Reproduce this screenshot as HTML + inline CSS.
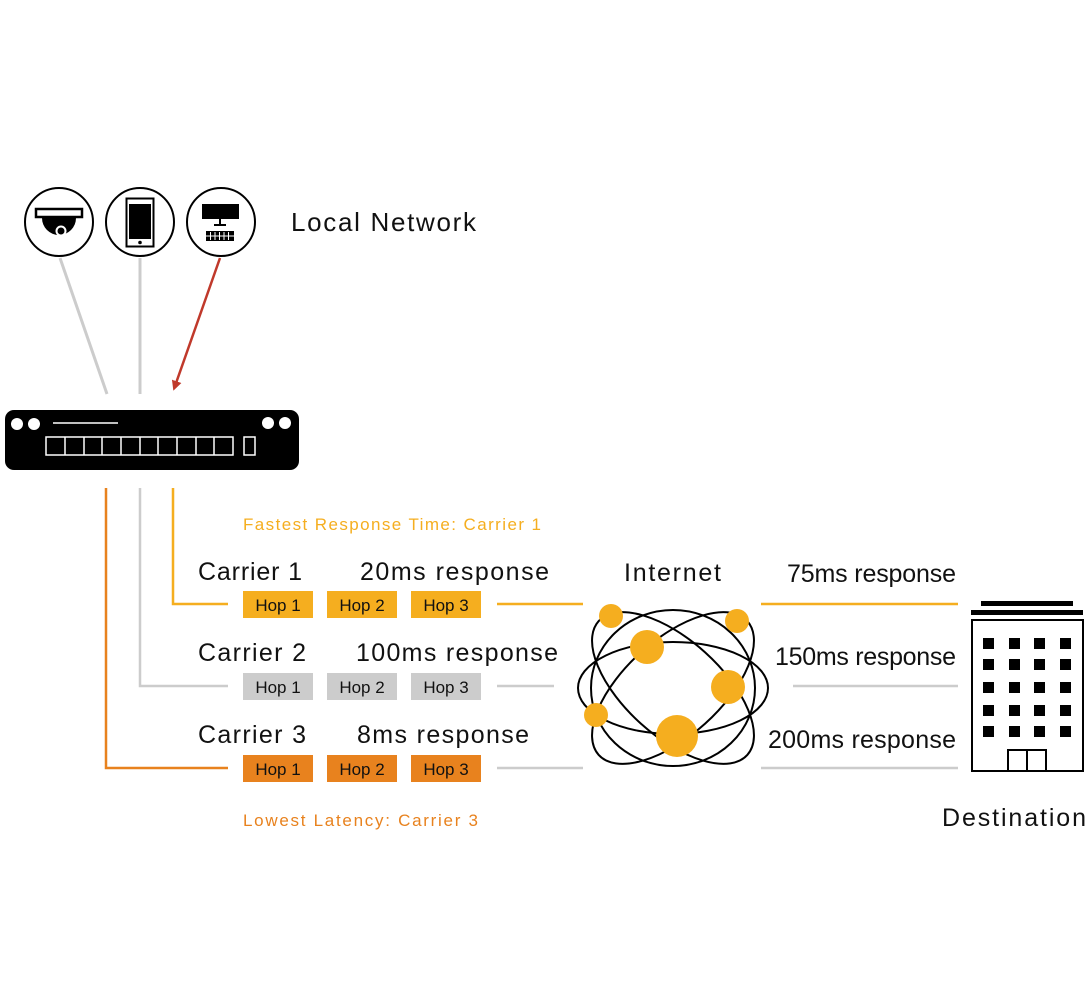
<!DOCTYPE html>
<html><head><meta charset="utf-8"><style>
body{margin:0;background:#fff}
svg{display:block}
text{font-family:"Liberation Sans",sans-serif}
</style></head><body>
<svg width="1086" height="1000" viewBox="0 0 1086 1000" xmlns="http://www.w3.org/2000/svg">
<defs><marker id="ah" markerWidth="10" markerHeight="10" refX="5" refY="5" orient="auto" markerUnits="userSpaceOnUse"><path d="M0,0 L10,5 L0,10 z" fill="#c0392b"/></marker></defs>
<g fill="#fff" stroke="#000" stroke-width="2">
<circle cx="59" cy="222" r="34"/><circle cx="140" cy="222" r="34"/><circle cx="221" cy="222" r="34"/>
</g>
<rect x="36" y="209" width="46" height="8" fill="#fff" stroke="#000" stroke-width="2.5"/>
<path d="M42,218 L76,218 A17,17 0 0 1 42,218 z" fill="#000"/>
<circle cx="61" cy="231" r="4.5" fill="#000" stroke="#fff" stroke-width="2"/>
<rect x="126.5" y="198.5" width="27" height="48" fill="none" stroke="#000" stroke-width="2"/>
<rect x="129" y="204" width="22" height="35" fill="#000"/>
<circle cx="140" cy="242.5" r="1.8" fill="#000"/>
<rect x="202" y="204" width="37" height="15" fill="#000"/>
<rect x="219" y="219" width="2" height="5" fill="#000"/><rect x="214" y="224" width="12" height="2" fill="#000"/>
<rect x="206" y="231" width="28" height="10" fill="#000"/>
<g stroke="#fff" stroke-width="1"><line x1="206" y1="236" x2="234" y2="236"/><line x1="210.5" y1="232" x2="210.5" y2="240"/><line x1="215" y1="232" x2="215" y2="240"/><line x1="219.5" y1="232" x2="219.5" y2="240"/><line x1="224" y1="232" x2="224" y2="240"/><line x1="228.5" y1="232" x2="228.5" y2="240"/></g>
<text x="291" y="231" font-size="26" fill="#111" textLength="185" lengthAdjust="spacing">Local Network</text>
<line x1="60" y1="258" x2="107" y2="394" stroke="#ccc" stroke-width="3"/>
<line x1="140" y1="258" x2="140" y2="394" stroke="#ccc" stroke-width="3"/>
<line x1="220" y1="258" x2="175" y2="386" stroke="#c0392b" stroke-width="2.5" marker-end="url(#ah)"/>
<rect x="5" y="410" width="294" height="60" rx="9" fill="#000"/>
<circle cx="17" cy="424" r="6" fill="#fff"/><circle cx="34" cy="424" r="6" fill="#fff"/>
<circle cx="268" cy="423" r="6" fill="#fff"/><circle cx="285" cy="423" r="6" fill="#fff"/>
<line x1="53" y1="423" x2="118" y2="423" stroke="#fff" stroke-width="1.5"/>
<g fill="none" stroke="#fff" stroke-width="1.5">
<rect x="46" y="437" width="187" height="18"/>
<line x1="65" y1="437" x2="65" y2="455"/><line x1="84" y1="437" x2="84" y2="455"/><line x1="102" y1="437" x2="102" y2="455"/><line x1="121" y1="437" x2="121" y2="455"/><line x1="140" y1="437" x2="140" y2="455"/><line x1="158" y1="437" x2="158" y2="455"/><line x1="177" y1="437" x2="177" y2="455"/><line x1="196" y1="437" x2="196" y2="455"/><line x1="214" y1="437" x2="214" y2="455"/>
<rect x="244" y="437" width="11" height="18"/>
</g>
<polyline points="173,488 173,604 228,604" fill="none" stroke="#f5ae1f" stroke-width="2.5"/>
<polyline points="140,488 140,686 228,686" fill="none" stroke="#ccc" stroke-width="2.5"/>
<polyline points="106,488 106,768 228,768" fill="none" stroke="#e8821e" stroke-width="2.5"/>
<text x="243" y="530" font-size="17" fill="#f5ae1f" textLength="298" lengthAdjust="spacing">Fastest Response Time: Carrier 1</text>
<text x="243" y="826" font-size="17" fill="#e8821e" textLength="235" lengthAdjust="spacing">Lowest Latency: Carrier 3</text>
<g font-size="25" fill="#111">
<text x="198" y="580" textLength="104" lengthAdjust="spacing">Carrier 1</text><text x="360" y="580" textLength="189" lengthAdjust="spacing">20ms response</text>
<text x="198" y="661" textLength="108" lengthAdjust="spacing">Carrier 2</text><text x="356" y="661" textLength="202" lengthAdjust="spacing">100ms response</text>
<text x="198" y="743" textLength="108" lengthAdjust="spacing">Carrier 3</text><text x="357" y="743" textLength="172" lengthAdjust="spacing">8ms response</text>
<text x="624" y="581" textLength="97" lengthAdjust="spacing">Internet</text>
<text x="787" y="582" textLength="169" lengthAdjust="spacing">75ms response</text>
<text x="775" y="665" textLength="181" lengthAdjust="spacing">150ms response</text>
<text x="768" y="748" textLength="188" lengthAdjust="spacing">200ms response</text>
<text x="942" y="826" textLength="144" lengthAdjust="spacing">Destination</text>
</g>
<g font-size="17" fill="#111" text-anchor="middle">
<rect x="243" y="591" width="70" height="27" fill="#f5ae1f"/><rect x="327" y="591" width="70" height="27" fill="#f5ae1f"/><rect x="411" y="591" width="70" height="27" fill="#f5ae1f"/>
<text x="278" y="611">Hop 1</text><text x="362" y="611">Hop 2</text><text x="446" y="611">Hop 3</text>
<rect x="243" y="673" width="70" height="27" fill="#ccc"/><rect x="327" y="673" width="70" height="27" fill="#ccc"/><rect x="411" y="673" width="70" height="27" fill="#ccc"/>
<text x="278" y="693">Hop 1</text><text x="362" y="693">Hop 2</text><text x="446" y="693">Hop 3</text>
<rect x="243" y="755" width="70" height="27" fill="#e8821e"/><rect x="327" y="755" width="70" height="27" fill="#e8821e"/><rect x="411" y="755" width="70" height="27" fill="#e8821e"/>
<text x="278" y="775">Hop 1</text><text x="362" y="775">Hop 2</text><text x="446" y="775">Hop 3</text>
</g>
<line x1="497" y1="604" x2="583" y2="604" stroke="#f5ae1f" stroke-width="2.5"/>
<line x1="497" y1="686" x2="554" y2="686" stroke="#ccc" stroke-width="2.5"/>
<line x1="497" y1="768" x2="583" y2="768" stroke="#ccc" stroke-width="2.5"/>
<line x1="761" y1="604" x2="958" y2="604" stroke="#f5ae1f" stroke-width="2.5"/>
<line x1="793" y1="686" x2="958" y2="686" stroke="#ccc" stroke-width="2.5"/>
<line x1="761" y1="768" x2="958" y2="768" stroke="#ccc" stroke-width="2.5"/>
<g fill="none" stroke="#000" stroke-width="2">
<ellipse cx="673" cy="688" rx="95" ry="46"/>
<ellipse cx="673" cy="688" rx="82" ry="78"/>
<ellipse cx="673" cy="688" rx="100" ry="48" transform="rotate(42 673 688)"/>
<ellipse cx="673" cy="688" rx="100" ry="48" transform="rotate(-42 673 688)"/>
</g>
<g fill="#f5ae1f">
<circle cx="611" cy="616" r="12"/><circle cx="737" cy="621" r="12"/><circle cx="647" cy="647" r="17"/><circle cx="728" cy="687" r="17"/><circle cx="596" cy="715" r="12"/><circle cx="677" cy="736" r="21"/>
</g>
<rect x="981" y="601" width="92" height="5" fill="#000"/>
<rect x="971" y="610" width="112" height="5" fill="#000"/>
<rect x="972" y="620" width="111" height="151" fill="none" stroke="#000" stroke-width="2"/>
<g fill="#000">
<rect x="983" y="638" width="11" height="11"/><rect x="1009" y="638" width="11" height="11"/><rect x="1034" y="638" width="11" height="11"/><rect x="1060" y="638" width="11" height="11"/>
<rect x="983" y="659" width="11" height="11"/><rect x="1009" y="659" width="11" height="11"/><rect x="1034" y="659" width="11" height="11"/><rect x="1060" y="659" width="11" height="11"/>
<rect x="983" y="682" width="11" height="11"/><rect x="1009" y="682" width="11" height="11"/><rect x="1034" y="682" width="11" height="11"/><rect x="1060" y="682" width="11" height="11"/>
<rect x="983" y="705" width="11" height="11"/><rect x="1009" y="705" width="11" height="11"/><rect x="1034" y="705" width="11" height="11"/><rect x="1060" y="705" width="11" height="11"/>
<rect x="983" y="726" width="11" height="11"/><rect x="1009" y="726" width="11" height="11"/><rect x="1034" y="726" width="11" height="11"/><rect x="1060" y="726" width="11" height="11"/>
</g>
<rect x="1008" y="750" width="38" height="21" fill="none" stroke="#000" stroke-width="2"/>
<line x1="1027" y1="750" x2="1027" y2="771" stroke="#000" stroke-width="2"/>
</svg>
</body></html>
